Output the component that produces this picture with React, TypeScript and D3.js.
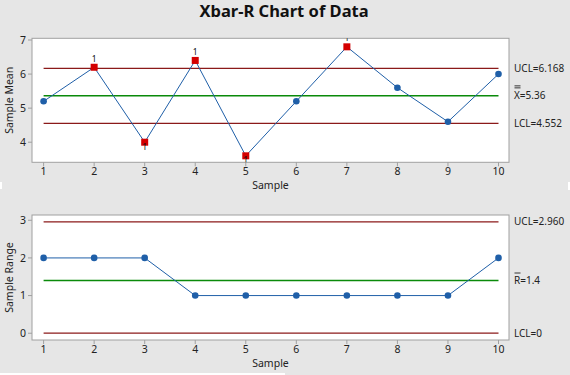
import React from "react";
import * as d3 from "d3";

const samples = [1, 2, 3, 4, 5, 6, 7, 8, 9, 10];
const means = [5.2, 6.2, 4.0, 6.4, 3.6, 5.2, 6.8, 5.6, 4.6, 6.0];
const ranges = [2, 2, 2, 1, 1, 1, 1, 1, 1, 2];
const meanLimits = { ucl: 6.168, cl: 5.36, lcl: 4.552 };
const rangeLimits = { ucl: 2.96, cl: 1.4, lcl: 0 };
const meanTicks = [4, 5, 6, 7];
const rangeTicks = [0, 1, 2, 3];

const FONT = "'Noto Sans', 'Open Sans', sans-serif";
const LIMIT_RED = "#8b1a1a";
const CENTER_GREEN = "#0a8a0a";
const POINT_BLUE = "#1f5fa8";
const FRAME = "#a0a0a0";

const frameX0 = 32;
const frameX1 = 509;
const x = d3.scaleLinear().domain([1, 10]).range([43.6, 498.5]);

type PanelProps = {
  id: string;
  values: number[];
  limits: { ucl: number; cl: number; lcl: number };
  ticks: number[];
  domain: [number, number];
  top: number;
  bottom: number;
  yLabel: string;
  uclText: string;
  clText: string;
  lclText: string;
  bars: number;
};

function Panel(p: PanelProps) {
  const y = d3.scaleLinear().domain(p.domain).range([p.bottom, p.top]);
  const line = d3
    .line<number>()
    .x((_, i) => x(samples[i]))
    .y((v) => y(v));
  const out = (v: number) => v > p.limits.ucl || v < p.limits.lcl;
  const clY = y(p.limits.cl);
  return (
    <g>
      <defs>
        <clipPath id={"clip" + p.id}>
          <rect x={frameX0} y={p.top} width={frameX1 - frameX0} height={p.bottom - p.top} />
        </clipPath>
      </defs>
      <rect x={frameX0} y={p.top} width={frameX1 - frameX0} height={p.bottom - p.top} fill="#ffffff" stroke={FRAME} strokeWidth={1} />
      {p.ticks.map((t) => (
        <g key={"yt" + t}>
          <line x1={frameX0 - 4} x2={frameX0} y1={y(t)} y2={y(t)} stroke={FRAME} />
          <text x={frameX0 - 6} y={y(t)} dy="0.35em" textAnchor="end" fontSize={10.5} fill="#222" fontFamily={FONT}>{t}</text>
        </g>
      ))}
      {samples.map((s) => (
        <g key={"xt" + s}>
          <line x1={x(s)} x2={x(s)} y1={p.bottom} y2={p.bottom + 4} stroke={FRAME} />
          <text x={x(s)} y={p.bottom + 13} textAnchor="middle" fontSize={10.5} fill="#222" fontFamily={FONT}>{s}</text>
        </g>
      ))}
      <text x={(frameX0 + frameX1) / 2} y={p.bottom + 27} textAnchor="middle" fontSize={10.5} fill="#222" fontFamily={FONT}>Sample</text>
      <text transform={`translate(13,${(p.top + p.bottom) / 2}) rotate(-90)`} textAnchor="middle" fontSize={10.5} fill="#222" fontFamily={FONT}>{p.yLabel}</text>
      <line x1={x(1)} x2={x(10)} y1={y(p.limits.ucl)} y2={y(p.limits.ucl)} stroke={LIMIT_RED} strokeWidth={1.3} />
      <line x1={x(1)} x2={x(10)} y1={y(p.limits.lcl)} y2={y(p.limits.lcl)} stroke={LIMIT_RED} strokeWidth={1.3} />
      <line x1={x(1)} x2={x(10)} y1={clY} y2={clY} stroke={CENTER_GREEN} strokeWidth={1.5} />
      <path d={line(p.values) || ""} fill="none" stroke={POINT_BLUE} strokeWidth={1} />
      {p.values.map((v, i) =>
        out(v) ? (
          <rect key={"pt" + i} x={x(samples[i]) - 3.5} y={y(v) - 3.5} width={7} height={7} fill="#d40000" />
        ) : (
          <circle key={"pt" + i} cx={x(samples[i])} cy={y(v)} r={3.3} fill={POINT_BLUE} />
        )
      )}
      <g clipPath={`url(#clip${p.id})`}>
        {p.values.map((v, i) =>
          out(v) ? (
            <text key={"lb" + i} x={x(samples[i])} y={v > p.limits.ucl ? y(v) - 5.5 : y(v) + 7.5} textAnchor="middle" fontSize={8.5} fill="#111" fontFamily={FONT}>1</text>
          ) : null
        )}
      </g>
      <text x={514} y={y(p.limits.ucl)} dy="0.35em" fontSize={10} fill="#222" fontFamily={FONT}>{p.uclText}</text>
      <text x={514} y={clY} dy="0.35em" fontSize={10} fill="#222" fontFamily={FONT}>{p.clText}</text>
      {p.bars === 2 ? (
        <g>
          <line x1={514.5} x2={520.5} y1={clY - 10} y2={clY - 10} stroke="#222" strokeWidth={0.9} />
          <line x1={514.5} x2={520.5} y1={clY - 8} y2={clY - 8} stroke="#222" strokeWidth={0.9} />
        </g>
      ) : (
        <line x1={514.5} x2={520.5} y1={clY - 7.5} y2={clY - 7.5} stroke="#222" strokeWidth={0.9} />
      )}
      <text x={514} y={y(p.limits.lcl)} dy="0.35em" fontSize={10} fill="#222" fontFamily={FONT}>{p.lclText}</text>
    </g>
  );
}

export default function App() {
  return (
    <svg width={570} height={375} style={{ position: "absolute", left: 0, top: 0 }}>
      <rect x={0} y={0} width={570} height={375} fill="#e6e6e6" />
      <rect x={0} y={182} width={2} height={7} fill="#ffffff" />
      <rect x={568} y={182} width={2} height={8} fill="#ffffff" />
      <rect x={0} y={373} width={285} height={2} fill="#ffffff" />
      <text x={284} y={17} textAnchor="middle" fontSize={16.5} fontWeight="bold" fill="#111" fontFamily={FONT}>Xbar-R Chart of Data</text>
      <Panel id="m" values={means} limits={meanLimits} ticks={meanTicks} domain={[3.41, 7.05]} top={38.3} bottom={162.3}
        yLabel="Sample Mean" uclText="UCL=6.168" clText="X=5.36" lclText="LCL=4.552" bars={2} />
      <Panel id="r" values={ranges} limits={rangeLimits} ticks={rangeTicks} domain={[-0.18, 3.14]} top={215} bottom={340}
        yLabel="Sample Range" uclText="UCL=2.960" clText="R=1.4" lclText="LCL=0" bars={1} />
    </svg>
  );
}
